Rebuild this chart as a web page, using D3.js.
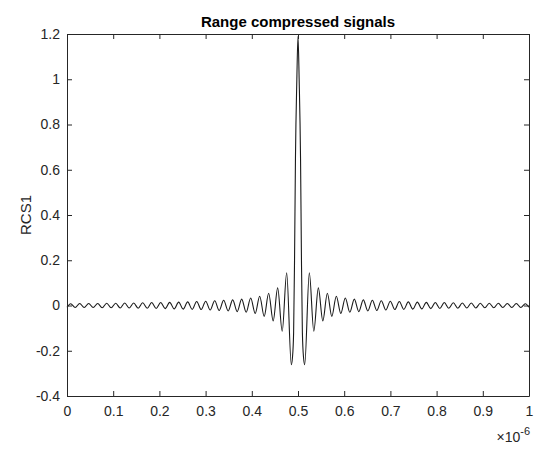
<!DOCTYPE html>
<html>
<head>
<meta charset="utf-8">
<script src="https://cdn.jsdelivr.net/npm/d3@7"></script>
<style>
  html, body { margin: 0; padding: 0; background: #fff; }
  svg { display: block; }
  text { font-family: "Liberation Sans", Arial, Helvetica, sans-serif; fill: #262626; }
</style>
</head>
<body>
<svg id="chart" width="550" height="460"></svg>
<script>
// ---- data (time in units of 1e-6 s) ----
const timeValues = [
  0.0000, 0.0080, 0.0177, 0.0275, 0.0372, 0.0469, 0.0567, 0.0664, 0.0762, 0.0859,
  0.0956, 0.1054, 0.1151, 0.1249, 0.1346, 0.1443, 0.1541, 0.1638, 0.1736, 0.1833,
  0.1930, 0.2028, 0.2125, 0.2223, 0.2320, 0.2417, 0.2515, 0.2612, 0.2710, 0.2807,
  0.2904, 0.3002, 0.3099, 0.3197, 0.3294, 0.3391, 0.3489, 0.3586, 0.3684, 0.3781,
  0.3878, 0.3976, 0.4073, 0.4171, 0.4268, 0.4365, 0.4463, 0.4560, 0.4658, 0.4755,
  0.4855, 0.4880, 0.4905, 0.4925, 0.4945, 0.4975, 0.5000,
  0.5025, 0.5055, 0.5075, 0.5095, 0.5120, 0.5145,
  0.5245, 0.5342, 0.5440, 0.5537, 0.5635, 0.5732, 0.5829, 0.5927, 0.6024, 0.6122,
  0.6219, 0.6316, 0.6414, 0.6511, 0.6609, 0.6706, 0.6803, 0.6901, 0.6998, 0.7096,
  0.7193, 0.7290, 0.7388, 0.7485, 0.7583, 0.7680, 0.7777, 0.7875, 0.7972, 0.8070,
  0.8167, 0.8264, 0.8362, 0.8459, 0.8557, 0.8654, 0.8751, 0.8849, 0.8946, 0.9044,
  0.9141, 0.9238, 0.9336, 0.9433, 0.9531, 0.9628, 0.9725, 0.9823, 0.9920, 1.0000
];
const rcs1Values = [
  -0.008, 0.008, -0.009, 0.009, -0.009, 0.009, -0.009, 0.009, -0.010, 0.010,
  -0.010, 0.010, -0.011, 0.011, -0.011, 0.011, -0.012, 0.012, -0.012, 0.013,
  -0.013, 0.013, -0.014, 0.014, -0.015, 0.015, -0.016, 0.016, -0.017, 0.018,
  -0.018, 0.019, -0.020, 0.021, -0.022, 0.023, -0.024, 0.025, -0.027, 0.028,
  -0.030, 0.033, -0.035, 0.041, -0.048, 0.054, -0.068, 0.078, -0.114, 0.145,
  -0.262, -0.230, -0.120, 0.200, 0.650, 1.000, 1.190,
  1.000, 0.650, 0.200, -0.120, -0.230, -0.262,
  0.145, -0.114, 0.078, -0.068, 0.054, -0.048, 0.041, -0.035, 0.033, -0.030,
  0.028, -0.027, 0.025, -0.024, 0.023, -0.022, 0.021, -0.020, 0.019, -0.018,
  0.018, -0.017, 0.016, -0.016, 0.015, -0.015, 0.014, -0.014, 0.013, -0.013,
  0.013, -0.012, 0.012, -0.012, 0.011, -0.011, 0.011, -0.011, 0.010, -0.010,
  0.010, -0.010, 0.010, -0.009, 0.009, -0.009, 0.009, -0.009, 0.008, -0.008
];
const xTicks = [0, 0.1, 0.2, 0.3, 0.4, 0.5, 0.6, 0.7, 0.8, 0.9, 1];
const xTickLabels = ["0", "0.1", "0.2", "0.3", "0.4", "0.5", "0.6", "0.7", "0.8", "0.9", "1"];
const yTicks = [-0.4, -0.2, 0, 0.2, 0.4, 0.6, 0.8, 1, 1.2];
const yTickLabels = ["-0.4", "-0.2", "0", "0.2", "0.4", "0.6", "0.8", "1", "1.2"];
const titleText = "Range compressed signals";
const yLabelText = "RCS1";

// ---- drawing ----
(function () {
const svg = d3.select("#chart");
const mLeft = 67, mRight = 529, mTop = 34, mBottom = 396;
const axisColor = "#262626";

const x = d3.scaleLinear().domain([0, 1]).range([mLeft, mRight]);
const y = d3.scaleLinear().domain([-0.4, 1.2]).range([mBottom, mTop]);

const series = timeValues.map((t, i) => ({ t, v: rcs1Values[i] }));

const line = d3.line()
  .x(d => x(d.t))
  .y(d => y(d.v))
  .curve(d3.curveMonotoneX);

svg.append("path")
  .datum(series)
  .attr("fill", "none")
  .attr("stroke", "#1a1a1a")
  .attr("stroke-width", 1.1)
  .attr("d", line);

const tickLen = 5;
const fmtX = d => xTickLabels[xTicks.indexOf(d)];
const fmtY = d => yTickLabels[yTicks.indexOf(d)];

function styleAxis(g) {
  g.selectAll("path.domain").attr("stroke", axisColor).attr("stroke-width", 1);
  g.selectAll(".tick line").attr("stroke", axisColor).attr("stroke-width", 1);
  g.selectAll(".tick text").attr("fill", axisColor)
    .style("font-family", '"Liberation Sans", Arial, sans-serif')
    .style("font-size", "14px");
}

svg.append("g").attr("transform", `translate(0,${mBottom})`)
  .call(d3.axisBottom(x).tickValues(xTicks).tickFormat(fmtX).tickSizeInner(-tickLen).tickSizeOuter(0).tickPadding(10))
  .call(styleAxis);
svg.append("g").attr("transform", `translate(0,${mTop})`)
  .call(d3.axisTop(x).tickValues(xTicks).tickFormat("").tickSizeInner(-tickLen).tickSizeOuter(0))
  .call(styleAxis);
svg.append("g").attr("transform", `translate(${mLeft},0)`)
  .call(d3.axisLeft(y).tickValues(yTicks).tickFormat(fmtY).tickSizeInner(-tickLen).tickSizeOuter(0).tickPadding(7))
  .call(styleAxis);
svg.append("g").attr("transform", `translate(${mRight},0)`)
  .call(d3.axisRight(y).tickValues(yTicks).tickFormat("").tickSizeInner(-tickLen).tickSizeOuter(0))
  .call(styleAxis);

svg.append("text")
  .attr("x", (mLeft + mRight) / 2)
  .attr("y", 27)
  .attr("text-anchor", "middle")
  .style("font-size", "15px")
  .style("font-weight", "bold")
  .style("fill", "#000")
  .text(titleText);

svg.append("text")
  .attr("transform", `translate(31,${(mTop + mBottom) / 2}) rotate(-90)`)
  .attr("text-anchor", "middle")
  .style("font-size", "15px")
  .text(yLabelText);

const expo = svg.append("text")
  .attr("x", mRight + 1)
  .attr("y", 442)
  .attr("text-anchor", "end")
  .style("font-size", "14px");
expo.append("tspan").text("\u00d710");
expo.append("tspan").attr("dy", -7).style("font-size", "11px").text("-6");
})();
</script>
</body>
</html>
